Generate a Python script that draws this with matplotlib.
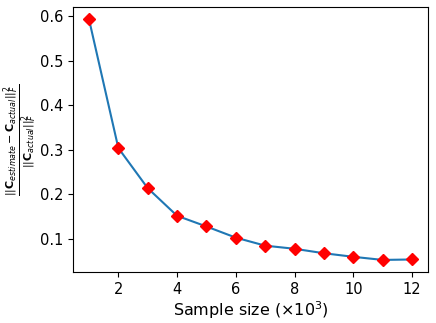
import matplotlib
matplotlib.use("Agg")
import matplotlib.pyplot as plt

# sample size (x1e3) and relative Frobenius error
sample_size = [1, 2, 3, 4, 5, 6, 7, 8, 9, 10, 11, 12]
rel_error = [0.593, 0.304, 0.214, 0.152, 0.128, 0.103, 0.085, 0.078, 0.068, 0.060, 0.053, 0.054]

fig = plt.figure(figsize=(4.36, 3.23), dpi=100)
ax = fig.add_axes([0.167, 0.158, 0.815, 0.820])
ax.plot(sample_size, rel_error, color="tab:blue", lw=1.5, zorder=1)
ax.plot(sample_size, rel_error, "D", color="red", ms=6, zorder=2)
ax.set_xticks([2, 4, 6, 8, 10, 12])
ax.tick_params(labelsize=10.5)
ax.set_xlabel(r"Sample size ($\times 10^3$)", fontsize=11.5, labelpad=2)
ax.set_ylabel(r"$\frac{||\mathbf{C}_{estimate} - \mathbf{C}_{actual}||_F^2}{||\mathbf{C}_{actual}||_F^2}$",
              fontsize=11.5, labelpad=0)
fig.savefig("out.png", dpi=100)
